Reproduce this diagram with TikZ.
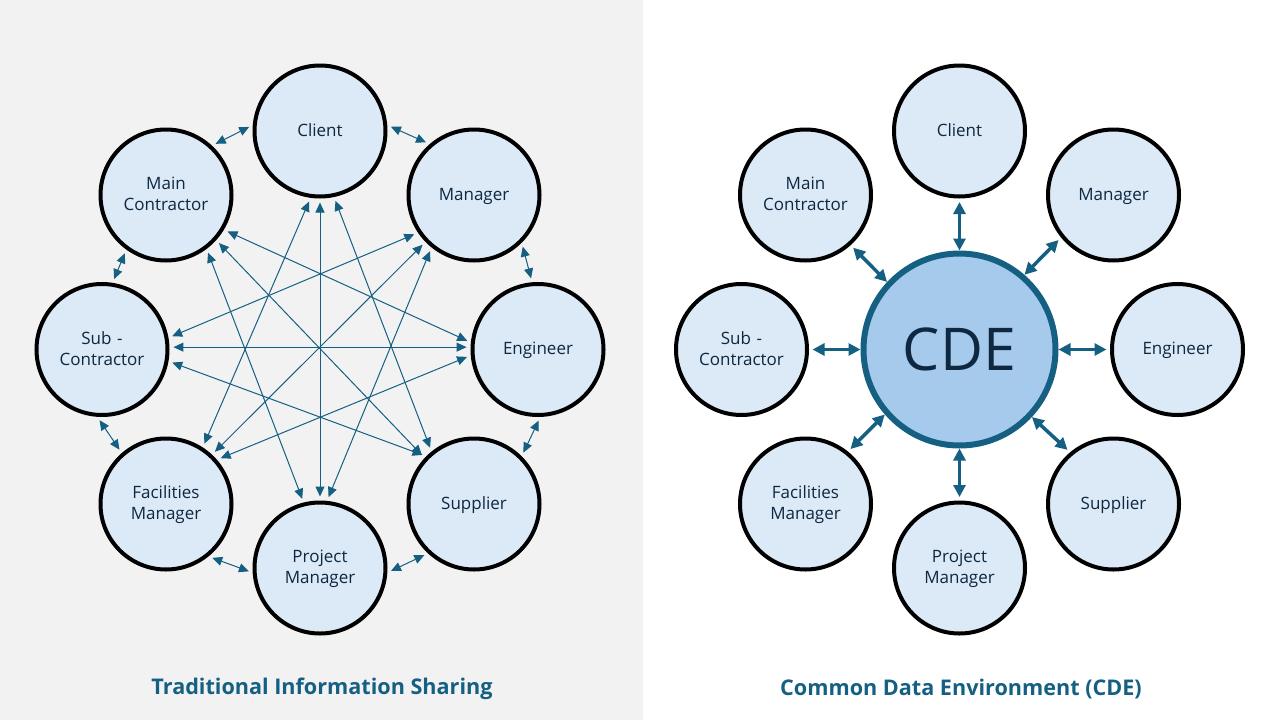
\documentclass[tikz,border=0pt]{standalone}
\usepackage{fontspec}
\setmainfont{Open Sans}
\definecolor{panelgrey}{HTML}{F2F2F2}
\definecolor{partyblue}{HTML}{DCE9F7}
\definecolor{cdeblue}{HTML}{A6CAEC}
\definecolor{linkteal}{HTML}{156082}
\definecolor{textnavy}{HTML}{0E2841}
\usetikzlibrary{arrows.meta, positioning}
\tikzset{
party/.style={circle, draw=black, fill=partyblue, line width=4pt, minimum size=131pt, inner sep=0pt, text width=120pt, align=center, text=textnavy, font=\fontsize{17}{21}\selectfont, execute at begin node={\rule{0pt}{16.7pt}}, execute at end node=\strut},
hub/.style={circle, draw=linkteal, fill=cdeblue, line width=6pt, minimum size=192pt, inner sep=0pt, text=textnavy, font=\fontsize{59}{63}\selectfont},
thinlink/.style={<->, >={Triangle[length=10pt,width=9pt]}, color=linkteal, line width=1pt, shorten <=4pt, shorten >=4pt},
thicklink/.style={<->, >={Triangle[length=12pt,width=12pt]}, color=linkteal, line width=3.5pt, shorten >=3.5pt},
thinlinks/.style={every edge/.style={draw, thinlink}},
thicklinks/.style={every edge/.style={draw, thicklink}},
caption/.style={text=linkteal, font=\fontsize{21.6}{25}\selectfont\bfseries},
}
\begin{document}
\begin{tikzpicture}[x=1pt, y=-1pt, on grid]
      \useasboundingbox (0,0) rectangle (1280,720);
      \fill[panelgrey] (0,0) rectangle (643,720);

      % left ring
      \node[party] (client) at (320,131) {Client};
      \node[party, below right=64pt and 154pt of client] (manager) {Manager};
      \node[party, below right=154.5pt and 64pt of manager] (engineer) {Engineer};
      \node[party, below left=154.5pt and 64pt of engineer] (supplier) {Supplier};
      \node[party, below left=64pt and 154pt of supplier] (pm) {Project\\Manager};
      \node[party, above left=64pt and 154pt of pm] (fm) {Facilities\\Manager};
      \node[party, above left=154.5pt and 64pt of fm] (sub) {Sub -\\Contractor};
      \node[party, above right=154.5pt and 64pt of sub] (main) {Main\\Contractor};

      % right ring
      \node[hub] (cde) at (959.5,349.5) {CDE};
      \node[party, right=639.5pt of client] (client2) {Client};
      \node[party, right=639.5pt of manager] (manager2) {Manager};
      \node[party, right=639.5pt of engineer] (engineer2) {Engineer};
      \node[party, right=639.5pt of supplier] (supplier2) {Supplier};
      \node[party, right=639.5pt of pm] (pm2) {Project\\Manager};
      \node[party, right=639.5pt of fm] (fm2) {Facilities\\Manager};
      \node[party, right=639.5pt of sub] (sub2) {Sub -\\Contractor};
      \node[party, right=639.5pt of main] (main2) {Main\\Contractor};

      \node[caption] (trad) at (322,689) {Traditional Information Sharing};
      \node[caption] (common) at (961,689) {Common Data Environment (CDE)};

      % neighbours
      \path[thinlinks] (main.47) edge (client.175)
      (client.5) edge (manager.131)
      (manager.-45) edge (engineer.95)
      (engineer.-88) edge (supplier.45)
      (supplier.-133) edge (pm.-4)
      (pm.184) edge (fm.-51)
      (fm.131) edge (sub.-94)
      (sub.81) edge (main.-126);

      % across the ring
      \path[thinlinks] (client.-98) edge (fm.57)
      (client.-90) edge (pm.90)
      (client.-78) edge (supplier.129)
      (manager.214) edge (sub.10)
      (manager.224) edge (fm.47)
      (manager.231) edge (pm.84)
      (engineer.174) edge (main.-31)
      (engineer.178) edge (sub.2)
      (engineer.185) edge (fm.41)
      (main.-42) edge (supplier.137)
      (main.-53) edge (pm.104)
      (sub.-10) edge (supplier.135);

      % spokes
      \path[thicklinks] (cde.90) edge (client2.-90)
      (cde.49) edge (manager2.219)
      (cde.0) edge (engineer2.180)
      (cde.-43) edge (supplier2.130)
      (cde.-90) edge (pm2.90)
      (cde.221) edge (fm2.51)
      (cde.180) edge (sub2.0)
      (cde.137) edge (main2.-48);
    \end{tikzpicture}
\end{document}
